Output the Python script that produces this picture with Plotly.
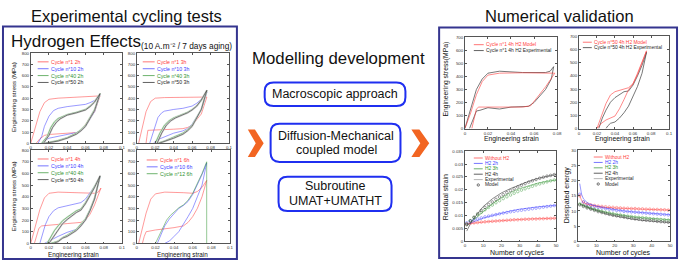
import plotly.graph_objects as go

W, H = 685, 266
FONT = "Liberation Sans, Arial, sans-serif"


def X(px):
    return px / W


def Y(py):
    return 1 - py / H


# ---------------- data: left panel (hydrogen effects) ----------------
c1_2h_x = [0, 0.005, 0.01, 0.015, 0.02, 0.03, 0.05, 0.07, 0.076, 0.07, 0.06, 0.055, 0.05, 0.03, 0.02, 0.015, 0.01, 0.006]
c1_2h_y = [0, 150, 280, 360, 390, 400, 410, 415, 420, 280, 160, 110, 95, 85, 78, 70, 40, 0]
c10_2h_x = [0.008, 0.012, 0.015, 0.02, 0.025, 0.03, 0.04, 0.05, 0.06, 0.065, 0.07, 0.076, 0.07, 0.06, 0.055, 0.05, 0.04, 0.03, 0.02, 0.015, 0.012]
c10_2h_y = [0, 60, 150, 240, 290, 310, 325, 335, 345, 360, 380, 430, 280, 150, 110, 95, 80, 65, 45, 25, 0]
c40_2h_x = [0.012, 0.018, 0.022, 0.026, 0.03, 0.035, 0.04, 0.05, 0.055, 0.06, 0.065, 0.07, 0.076, 0.07, 0.06, 0.055, 0.05, 0.04, 0.03, 0.02, 0.015]
c40_2h_y = [0, 60, 140, 190, 220, 240, 255, 275, 285, 300, 330, 370, 440, 300, 160, 120, 90, 50, 25, 8, 0]
c50_2h_x = [0.014, 0.02, 0.024, 0.028, 0.032, 0.036, 0.04, 0.05, 0.055, 0.06, 0.065, 0.07, 0.076, 0.07, 0.06, 0.055, 0.05, 0.04, 0.03, 0.02, 0.016]
c50_2h_y = [0, 70, 140, 185, 215, 235, 250, 270, 280, 295, 325, 365, 440, 290, 150, 110, 80, 45, 20, 5, 0]

c1_3h_x = [0.002, 0.006, 0.01, 0.015, 0.02, 0.03, 0.05, 0.07, 0.076, 0.07, 0.06, 0.055, 0.05, 0.04, 0.02, 0.012, 0.011, 0.01]
c1_3h_y = [0, 150, 280, 370, 400, 405, 408, 408, 410, 260, 160, 140, 130, 125, 120, 115, 60, 0]
c10_3h_x = [0.014, 0.017, 0.02, 0.023, 0.027, 0.03, 0.04, 0.05, 0.06, 0.065, 0.07, 0.076, 0.07, 0.06, 0.055, 0.05, 0.04, 0.03, 0.022, 0.018]
c10_3h_y = [0, 80, 170, 230, 270, 285, 300, 310, 330, 355, 390, 450, 300, 170, 130, 110, 90, 60, 30, 0]
c40_3h_x = [0.02, 0.025, 0.03, 0.035, 0.04, 0.05, 0.055, 0.06, 0.065, 0.07, 0.076, 0.07, 0.06, 0.055, 0.05, 0.04, 0.03, 0.022]
c40_3h_y = [0, 90, 160, 200, 225, 255, 275, 300, 330, 380, 465, 300, 160, 120, 90, 55, 20, 0]
c50_3h_x = [0.022, 0.027, 0.032, 0.037, 0.042, 0.05, 0.055, 0.06, 0.065, 0.07, 0.076, 0.07, 0.06, 0.055, 0.05, 0.04, 0.03, 0.024]
c50_3h_y = [0, 90, 160, 200, 225, 250, 270, 295, 330, 385, 470, 300, 150, 110, 80, 45, 15, 0]

c1_4h_x = [0, 0.005, 0.01, 0.015, 0.02, 0.03, 0.05, 0.06, 0.07, 0.074, 0.077, 0.07, 0.065, 0.06, 0.055, 0.04, 0.02, 0.012, 0.009, 0.006, 0.004]
c1_4h_y = [0, 150, 290, 390, 430, 440, 435, 430, 430, 440, 475, 330, 250, 200, 180, 170, 160, 150, 130, 60, 0]
c10_4h_x = [0.01, 0.013, 0.016, 0.02, 0.025, 0.03, 0.04, 0.05, 0.055, 0.06, 0.065, 0.07, 0.076, 0.07, 0.06, 0.055, 0.05, 0.04, 0.03, 0.02, 0.015]
c10_4h_y = [0, 80, 160, 230, 280, 305, 325, 340, 350, 380, 430, 490, 570, 380, 200, 150, 120, 95, 60, 20, 0]
c40_4h_x = [0.018, 0.022, 0.026, 0.03, 0.035, 0.04, 0.045, 0.05, 0.055, 0.06, 0.065, 0.07, 0.076, 0.07, 0.065, 0.06, 0.055, 0.05, 0.04, 0.035, 0.03, 0.022]
c40_4h_y = [0, 60, 110, 150, 195, 225, 250, 280, 295, 350, 420, 490, 575, 390, 290, 210, 160, 120, 70, 50, 20, 0]
c50_4h_x = [0.02, 0.025, 0.03, 0.035, 0.04, 0.045, 0.05, 0.055, 0.06, 0.065, 0.07, 0.076, 0.07, 0.065, 0.06, 0.055, 0.05, 0.04, 0.035, 0.03, 0.025]
c50_4h_y = [0, 60, 120, 170, 205, 235, 265, 285, 340, 410, 480, 580, 380, 280, 200, 150, 110, 60, 45, 15, 0]

c1_6h_x = [0.002, 0.006, 0.01, 0.015, 0.02, 0.03, 0.04, 0.05, 0.06, 0.065, 0.07, 0.075, 0.07, 0.065, 0.06, 0.055, 0.05, 0.04, 0.02, 0.01, 0.008, 0.006]
c1_6h_y = [0, 120, 260, 380, 425, 440, 440, 435, 430, 445, 480, 540, 400, 300, 230, 180, 150, 135, 115, 100, 60, 0]
c10_6h_x = [0.022, 0.026, 0.03, 0.035, 0.04, 0.045, 0.05, 0.055, 0.06, 0.065, 0.07, 0.075, 0.07, 0.065, 0.06, 0.055, 0.05, 0.045, 0.04, 0.035, 0.03]
c10_6h_y = [0, 80, 150, 210, 260, 300, 325, 360, 420, 500, 590, 690, 500, 400, 300, 230, 170, 100, 60, 20, 0]
c12_6h_x = [0.02, 0.024, 0.028, 0.032, 0.036, 0.04, 0.045, 0.05, 0.055, 0.06, 0.065, 0.07, 0.075, 0.075]
c12_6h_y = [0, 70, 140, 200, 240, 270, 305, 330, 370, 430, 510, 600, 700, 0]

# ---------------- data: right panel (numerical validation) ----------------
v1_model_x = [0, 0.005, 0.01, 0.015, 0.02, 0.03, 0.05, 0.07, 0.078, 0.07, 0.06, 0.057, 0.05, 0.03, 0.012, 0.01, 0.006]
v1_model_y = [0, 120, 260, 360, 410, 425, 428, 428, 425, 320, 210, 175, 165, 165, 165, 150, 0]
v1_exp_x = [0, 0.005, 0.01, 0.015, 0.02, 0.03, 0.04, 0.05, 0.07, 0.074, 0.077, 0.075, 0.07, 0.06, 0.055, 0.04, 0.03, 0.02, 0.013, 0.01, 0.004]
v1_exp_y = [0, 160, 300, 380, 425, 440, 435, 430, 430, 440, 475, 380, 300, 200, 170, 165, 150, 160, 140, 135, 0]
v50_model_x = [0.02, 0.025, 0.03, 0.035, 0.04, 0.05, 0.055, 0.06, 0.065, 0.07, 0.075, 0.07, 0.065, 0.06, 0.055, 0.05, 0.045, 0.04, 0.035, 0.03, 0.025, 0.02]
v50_model_y = [0, 100, 190, 255, 280, 300, 310, 340, 410, 500, 590, 510, 420, 340, 295, 220, 150, 95, 80, 65, 40, 0]
v50_exp_x = [0.022, 0.026, 0.03, 0.035, 0.04, 0.045, 0.05, 0.055, 0.06, 0.065, 0.07, 0.075, 0.07, 0.065, 0.06, 0.055, 0.05, 0.045, 0.04, 0.035, 0.032, 0.03]
v50_exp_y = [0, 80, 140, 200, 235, 260, 280, 285, 330, 400, 480, 580, 420, 320, 240, 170, 120, 80, 50, 40, 20, 0]

exp_cycles = [1, 2, 3, 5, 7, 10, 15, 20, 25, 30, 35, 40, 45, 50]
model_cycles = list(range(1, 50, 2))

res_exp_noH2 = [0.0068, 0.0069, 0.0070, 0.0072, 0.0073, 0.0075, 0.0078, 0.0081, 0.0083, 0.0085, 0.0087, 0.0088, 0.0089, 0.0090]
res_exp_2h = [0.0065, 0.0068, 0.0071, 0.0077, 0.0083, 0.0090, 0.0100, 0.0110, 0.0118, 0.0125, 0.0130, 0.0134, 0.0137, 0.0140]
res_exp_3h = [0.0060, 0.0066, 0.0072, 0.0085, 0.0098, 0.0115, 0.0145, 0.0170, 0.0190, 0.0205, 0.0217, 0.0226, 0.0233, 0.0238]
res_exp_4h = [0.0040, 0.0055, 0.0068, 0.0090, 0.0110, 0.0135, 0.0165, 0.0188, 0.0205, 0.0220, 0.0233, 0.0244, 0.0253, 0.0260]
res_mod_noH2 = [0.0068, 0.0070, 0.0072, 0.0073, 0.0075, 0.0076, 0.0077, 0.0078, 0.0079, 0.0080, 0.0081, 0.0082, 0.0083,
                0.0084, 0.0084, 0.0085, 0.0086, 0.0086, 0.0087, 0.0087, 0.0088, 0.0088, 0.0089, 0.0089, 0.0090]
res_mod_2h = [0.0072, 0.0078, 0.0083, 0.0087, 0.0091, 0.0095, 0.0098, 0.0101, 0.0104, 0.0107, 0.0110, 0.0112, 0.0115,
              0.0117, 0.0119, 0.0121, 0.0123, 0.0125, 0.0127, 0.0129, 0.0131, 0.0133, 0.0135, 0.0137, 0.0139]
res_mod_3h = [0.0068, 0.0080, 0.0092, 0.0103, 0.0113, 0.0123, 0.0132, 0.0141, 0.0150, 0.0158, 0.0166, 0.0173, 0.0180,
              0.0187, 0.0193, 0.0199, 0.0204, 0.0209, 0.0214, 0.0219, 0.0223, 0.0227, 0.0231, 0.0235, 0.0238]
res_mod_4h = [0.0065, 0.0080, 0.0094, 0.0107, 0.0120, 0.0132, 0.0143, 0.0153, 0.0163, 0.0172, 0.0181, 0.0189, 0.0197,
              0.0204, 0.0211, 0.0218, 0.0224, 0.0230, 0.0235, 0.0240, 0.0245, 0.0249, 0.0253, 0.0256, 0.0259]

en_exp_noH2 = [15.0, 13.5, 12.8, 12.2, 11.9, 11.6, 11.2, 11.0, 10.8, 10.7, 10.6, 10.5, 10.4, 10.3]
en_exp_2h = [19.0, 15.5, 14.0, 12.8, 12.2, 11.6, 10.9, 10.4, 10.0, 9.7, 9.4, 9.2, 9.0, 8.8]
en_exp_3h = [12.5, 12.2, 12.0, 11.5, 11.0, 10.4, 9.6, 9.0, 8.5, 8.1, 7.8, 7.5, 7.3, 7.1]
en_exp_4h = [12.2, 12.0, 11.8, 11.2, 10.7, 10.0, 9.1, 8.4, 7.8, 7.3, 6.9, 6.6, 6.4, 6.2]
en_mod_noH2 = [15.0, 12.9, 12.3, 12.0, 11.8, 11.6, 11.5, 11.4, 11.3, 11.2, 11.1, 11.0, 10.9,
               10.9, 10.8, 10.8, 10.7, 10.7, 10.6, 10.6, 10.5, 10.5, 10.4, 10.4, 10.3]
en_mod_2h = [15.5, 13.0, 12.2, 11.8, 11.5, 11.2, 11.0, 10.8, 10.6, 10.4, 10.2, 10.1, 9.9,
             9.8, 9.7, 9.6, 9.5, 9.4, 9.3, 9.2, 9.1, 9.0, 8.9, 8.8, 8.7]
en_mod_3h = [12.3, 11.8, 11.3, 10.9, 10.5, 10.2, 9.9, 9.6, 9.4, 9.1, 8.9, 8.7, 8.5,
             8.3, 8.2, 8.0, 7.9, 7.8, 7.7, 7.5, 7.4, 7.3, 7.2, 7.1, 7.0]
en_mod_4h = [12.0, 11.5, 11.0, 10.6, 10.2, 9.8, 9.5, 9.2, 8.9, 8.6, 8.4, 8.2, 8.0,
             7.8, 7.6, 7.4, 7.3, 7.1, 7.0, 6.9, 6.8, 6.6, 6.5, 6.4, 6.3]

# ---------------- figure ----------------
RED = "#ff3b3b"
BLUE = "#3b3bff"
GREEN = "#2f922f"
BLACK = "#1e1e1e"
GRAY = "#9a9a9a"
NAVY = "#35358f"
BOXBLUE = "#1f2ff0"
ORANGE = "#f26522"

fig = go.Figure()


def ax_id(i):
    return "" if i == 1 else str(i)


def add(i, xs, ys, color, width=0.8, mode="lines", msize=3):
    s = ax_id(i)
    fig.add_trace(go.Scatter(
        x=xs, y=ys, mode=mode, xaxis="x" + s, yaxis="y" + s,
        line=dict(color=color, width=width),
        marker=dict(symbol="circle-open", size=msize, color=color, line=dict(width=0.5, color=color)),
        opacity=0.85, showlegend=False, hoverinfo="skip"))


layout_axes = {}


def axes(i, xpx, ypx, xr, yr, xdt, ydt):
    s = ax_id(i)
    common = dict(showline=True, linecolor="#555555", linewidth=0.6, mirror="ticks",
                  ticks="inside", ticklen=2, tickwidth=0.5, tickcolor="#555555",
                  showgrid=False, zeroline=False,
                  tickfont=dict(size=4.4, color="#333333", family=FONT))
    layout_axes["xaxis" + s] = dict(domain=[X(xpx[0]), X(xpx[1])], range=xr, dtick=xdt, tick0=0,
                                    anchor="y" + s, **common)
    layout_axes["yaxis" + s] = dict(domain=[Y(ypx[1]), Y(ypx[0])], range=yr, dtick=ydt, tick0=0,
                                    anchor="x" + s, **common)


# left panel axes
axes(1, (30, 122), (52, 144), [0, 0.1], [0, 800], 0.02, 100)
axes(2, (137, 230), (52, 144), [0, 0.1], [0, 800], 0.02, 100)
axes(3, (30, 122), (151, 246), [0, 0.1], [0, 800], 0.02, 100)
axes(4, (137, 231), (151, 246), [0, 0.1], [0, 800], 0.02, 100)
# right panel axes
axes(5, (468, 561), (36, 129), [0, 0.08], [0, 700], 0.02, 100)
axes(6, (583, 674), (35, 129), [0, 0.1], [0, 700], 0.02, 100)
axes(7, (468, 560), (152, 244), [0, 50], [0, 0.035], 10, 0.005)
axes(8, (582, 675), (151, 244), [0, 50], [0, 30], 10, 5)

# left traces
for i, curves in [
    (1, [(c1_2h_x, c1_2h_y, RED), (c10_2h_x, c10_2h_y, BLUE), (c40_2h_x, c40_2h_y, GREEN), (c50_2h_x, c50_2h_y, BLACK)]),
    (2, [(c1_3h_x, c1_3h_y, RED), (c10_3h_x, c10_3h_y, BLUE), (c40_3h_x, c40_3h_y, GREEN), (c50_3h_x, c50_3h_y, BLACK)]),
    (3, [(c1_4h_x, c1_4h_y, RED), (c10_4h_x, c10_4h_y, BLUE), (c40_4h_x, c40_4h_y, GREEN), (c50_4h_x, c50_4h_y, BLACK)]),
    (4, [(c1_6h_x, c1_6h_y, RED), (c10_6h_x, c10_6h_y, BLUE), (c12_6h_x, c12_6h_y, GREEN)]),
]:
    for xs, ys, col in curves:
        if col in (GREEN, BLACK) and i != 4:
            add(i, xs, ys, "#d3e3d3" if col == GREEN else "#d0d0d0", width=1.8)
        add(i, xs, ys, col, width=0.6)

# right top traces
add(5, v1_exp_x, v1_exp_y, BLACK, width=0.7)
add(5, v1_model_x, v1_model_y, RED, width=0.7)
add(6, v50_exp_x, v50_exp_y, BLACK, width=0.7)
add(6, v50_model_x, v50_model_y, RED, width=0.7)

# residual strain
for ys, col in [(res_exp_noH2, RED), (res_exp_2h, BLUE), (res_exp_3h, GREEN), (res_exp_4h, BLACK)]:
    add(7, exp_cycles, ys, col, width=0.6)
for ys, col in [(res_mod_noH2, RED), (res_mod_2h, BLUE), (res_mod_3h, GREEN), (res_mod_4h, BLACK)]:
    add(7, model_cycles, ys, col, mode="markers", msize=2.6)
# dissipated energy
for ys, col in [(en_exp_noH2, RED), (en_exp_2h, BLUE), (en_exp_3h, GREEN), (en_exp_4h, BLACK)]:
    add(8, exp_cycles, ys, col, width=0.6)
for ys, col in [(en_mod_noH2, RED), (en_mod_2h, BLUE), (en_mod_3h, GREEN), (en_mod_4h, BLACK)]:
    add(8, model_cycles, ys, col, mode="markers", msize=2.6)

shapes = []
annotations = []


def text(px, py, t, size, color="#111111", xanchor="center", angle=0, yanchor="middle"):
    annotations.append(dict(x=X(px), y=Y(py), xref="paper", yref="paper", text=t, showarrow=False,
                            xanchor=xanchor, yanchor=yanchor, textangle=angle, borderpad=0,
                            font=dict(size=size, color=color, family=FONT)))


def legend_row(x0, x1, py, label, color, tcolor=None, size=5, marker=False):
    if marker:
        cx = (x0 + x1) / 2
        shapes.append(dict(type="circle", xref="paper", yref="paper",
                           x0=X(cx - 1.2), x1=X(cx + 1.2), y0=Y(py + 1.2), y1=Y(py - 1.2),
                           line=dict(color=color, width=0.6)))
    else:
        shapes.append(dict(type="line", xref="paper", yref="paper", x0=X(x0), x1=X(x1), y0=Y(py), y1=Y(py),
                           line=dict(color=color, width=0.7)))
    text(x1 + 1.5, py, label, size, tcolor or color, xanchor="left")


# legends left panel
for lx0, lx1, rows in [
    (37, 48, [(61, "Cycle n°1 2h", RED), (68, "Cycle n°10 2h", BLUE), (75, "Cycle n°40 2h", GREEN), (82, "Cycle n°50 2h", BLACK)]),
    (143, 155, [(61, "Cycle n°1 3h", RED), (68, "Cycle n°10 3h", BLUE), (75, "Cycle n°40 3h", GREEN), (82, "Cycle n°50 3h", BLACK)]),
    (37, 48, [(160, "Cycle n°1 4h", RED), (167, "Cycle n°10 4h", BLUE), (174, "Cycle n°40 4h", GREEN), (181, "Cycle n°50 4h", BLACK)]),
    (147, 158, [(161, "Cycle n°1 6h", RED), (168, "Cycle n°10 6h", BLUE), (175, "Cycle n°12 6h", GREEN)]),
]:
    for py, lab, col in rows:
        legend_row(lx0, lx1, py, lab, col, size=5.2)

# legends right panel
legend_row(477, 487, 43.5, "Cycle n°1 4h H2 Model", RED, size=4.9)
legend_row(477, 487, 49.5, "Cycle n°1 4h H2 Experimental", BLACK, size=4.9)
legend_row(587, 596, 41, "Cycle n°50 4h H2 Model", RED, size=4.9)
legend_row(587, 596, 46.5, "Cycle n°50 4h H2 Experimental", BLACK, size=4.9)
for lx0, lx1, ys in [(477, 486, [159, 164.5, 170, 175.5, 181, 186.5]), (598, 607, [158, 163.5, 169, 174.5, 180, 185.5])]:
    legend_row(lx0, lx1, ys[0], "Without H2", RED, size=4.9)
    legend_row(lx0, lx1, ys[1], "H2 2h", BLUE, size=4.9)
    legend_row(lx0, lx1, ys[2], "H2 3h", GREEN, size=4.9)
    legend_row(lx0, lx1, ys[3], "H2 4h", BLACK, size=4.9)
    legend_row(lx0, lx1, ys[4], "Experimental", GRAY, tcolor=BLACK, size=4.9)
    legend_row(lx0, lx1, ys[5], "Model", BLACK, size=4.9, marker=True)

# axis titles
text(12, 97, "Engineering stress (MPa)", 6.2, angle=-90)
text(12, 198, "Engineering stress (MPa)", 6.2, angle=-90)
text(73, 257.5, "Engineering strain", 6.3)
text(183, 257.5, "Engineering strain", 6.3)
text(448, 79, "Engineering stress(MPa)", 6.8, angle=-90)
text(515, 139.5, "Engineering strain", 6.8)
text(627, 139.5, "Engineering strain", 6.8)
text(448, 199, "Residual strain", 7, angle=-90)
text(571, 196, "Dissipated energy", 7, angle=-90)
text(521, 255.5, "Number of cycles", 7)
text(628, 255.5, "Number of cycles", 7)

# headings
text(127, 14, "Experimental cycling tests", 16.5)
text(563, 14, "Numerical validation", 16.5)
text(9, 40, "Hydrogen Effects", 17, xanchor="left")
text(140, 44.5, "(10 A.m⁻² / 7 days aging)", 8.3, xanchor="left")
text(340, 58, "Modelling development", 16.8)

# outer frames
shapes.append(dict(type="rect", xref="paper", yref="paper", x0=X(2), x1=X(238), y0=Y(262), y1=Y(25),
                   line=dict(color=NAVY, width=2)))
shapes.append(dict(type="rect", xref="paper", yref="paper", x0=X(442), x1=X(682), y0=Y(261), y1=Y(26),
                   line=dict(color=NAVY, width=2)))


def rrect(x0, y0, x1, y1, r):
    pts = [("M", [(x0 + r, y0)]), ("L", [(x1 - r, y0)]), ("Q", [(x1, y0), (x1, y0 + r)]),
           ("L", [(x1, y1 - r)]), ("Q", [(x1, y1), (x1 - r, y1)]), ("L", [(x0 + r, y1)]),
           ("Q", [(x0, y1), (x0, y1 - r)]), ("L", [(x0, y0 + r)]), ("Q", [(x0, y0), (x0 + r, y0)])]
    path = ""
    for cmd, pp in pts:
        path += cmd + " " + " ".join(f"{X(a):.5f},{Y(b):.5f}" for a, b in pp) + " "
    return path + "Z"


for bx0, by0, bx1, by1 in [(266, 82, 408, 106), (272, 124, 403, 163), (280, 178, 394, 213)]:
    shapes.append(dict(type="path", xref="paper", yref="paper", path=rrect(bx0, by0, bx1, by1, 9),
                       line=dict(color=BOXBLUE, width=2), fillcolor="white"))

text(337, 94, "Macroscopic approach", 12.5)
text(338, 136.5, "Diffusion-Mechanical", 12.5)
text(338, 150.5, "coupled model", 12.5)
text(337, 187.5, "Subroutine", 12.5)
text(337, 202.5, "UMAT+UMATHT", 12.5)


def chevron(x0, x1, y0, y1):
    xm = x0 + (x1 - x0) * 0.45
    xn = x0 + (x1 - x0) * 0.5
    ym = (y0 + y1) / 2
    pts = [(x0, y0), (xm, y0), (x1, ym), (xm, y1), (x0, y1), (xn, ym)]
    return "M " + " L ".join(f"{X(a):.5f},{Y(b):.5f}" for a, b in pts) + " Z"


for cx0, cx1 in [(249, 265), (414, 432)]:
    shapes.append(dict(type="path", xref="paper", yref="paper", path=chevron(cx0, cx1, 130, 158),
                       line=dict(width=0), fillcolor=ORANGE))

fig.update_layout(
    width=W, height=H, margin=dict(l=0, r=0, t=0, b=0),
    paper_bgcolor="white", plot_bgcolor="white",
    showlegend=False, shapes=shapes, annotations=annotations,
    font=dict(family=FONT),
    **layout_axes,
)

fig.write_html("out.html", config={"displayModeBar": False},
               post_script="document.body.style.margin='0px';document.body.style.overflow='hidden';")
